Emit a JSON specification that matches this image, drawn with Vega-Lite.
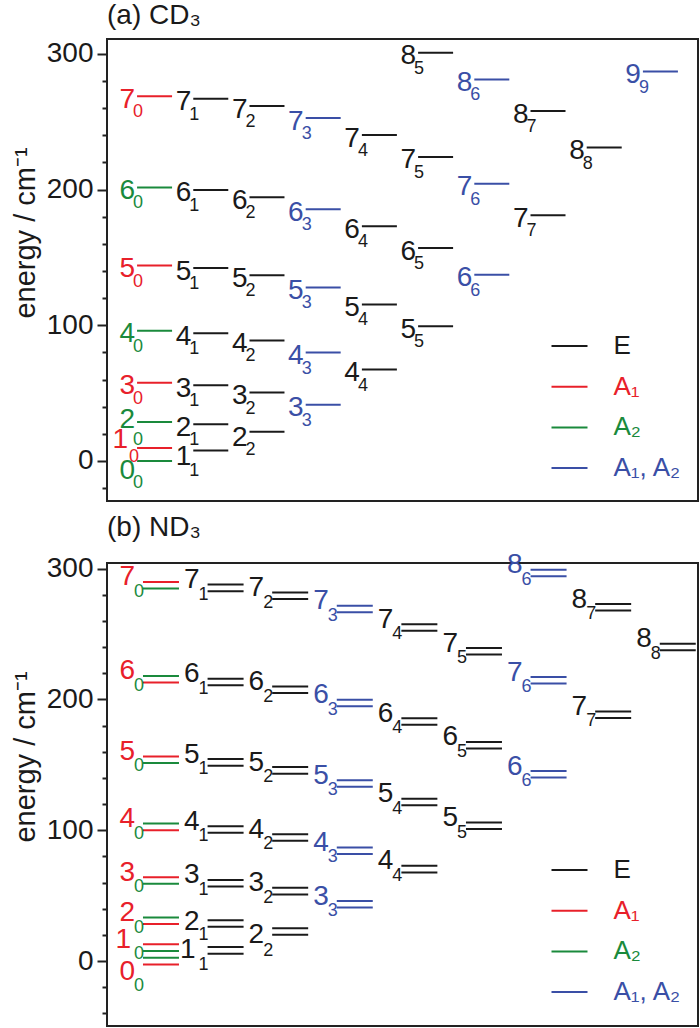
{
  "$schema": "https://vega.github.io/schema/vega-lite/v6.json",
  "background": "white",
  "padding": {"left": 10, "top": 0, "right": 0, "bottom": 0},
  "spacing": 10,
  "config": {
    "font": "Liberation Sans",
    "view": {"stroke": "#222222", "strokeWidth": 2},
    "title": {"font": "Liberation Sans", "fontSize": 28, "fontWeight": "normal", "anchor": "start", "frame": "group", "baseline": "alphabetic", "offset": 9.5, "color": "#1a1a1a"},
    "axis": {
      "values": [0, 50, 100, 150, 200, 250, 300],
      "labelExpr": "datum.value % 100 == 0 ? datum.label : ''",
      "tickSize": {"expr": "datum.value % 100 == 0 ? 10 : 5"},
      "tickWidth": 2, "tickColor": "#222222", "domain": false, "grid": false,
      "labelFontSize": 28, "labelFont": "Liberation Sans", "labelColor": "#1a1a1a", "labelPadding": 4,
      "titleFontSize": 29, "titleFont": "Liberation Sans", "titleFontWeight": "normal", "titleColor": "#1a1a1a", "titlePadding": 6, "titleY": 193.5
    }
  },
  "datasets": {
    "cd3": [
      {"J": 0, "K": 0, "E": 0.0, "sym": "A₂"},
      {"J": 1, "K": 0, "E": 9.6, "sym": "A₁"},
      {"J": 1, "K": 1, "E": 7.8, "sym": "E"},
      {"J": 2, "K": 0, "E": 28.8, "sym": "A₂"},
      {"J": 2, "K": 1, "E": 27.0, "sym": "E"},
      {"J": 2, "K": 2, "E": 21.6, "sym": "E"},
      {"J": 3, "K": 0, "E": 57.6, "sym": "A₁"},
      {"J": 3, "K": 1, "E": 55.8, "sym": "E"},
      {"J": 3, "K": 2, "E": 50.4, "sym": "E"},
      {"J": 3, "K": 3, "E": 41.5, "sym": "A₁, A₂"},
      {"J": 4, "K": 0, "E": 96.0, "sym": "A₂"},
      {"J": 4, "K": 1, "E": 94.2, "sym": "E"},
      {"J": 4, "K": 2, "E": 88.8, "sym": "E"},
      {"J": 4, "K": 3, "E": 79.9, "sym": "A₁, A₂"},
      {"J": 4, "K": 4, "E": 67.4, "sym": "E"},
      {"J": 5, "K": 0, "E": 144.0, "sym": "A₁"},
      {"J": 5, "K": 1, "E": 142.2, "sym": "E"},
      {"J": 5, "K": 2, "E": 136.8, "sym": "E"},
      {"J": 5, "K": 3, "E": 127.9, "sym": "A₁, A₂"},
      {"J": 5, "K": 4, "E": 115.4, "sym": "E"},
      {"J": 5, "K": 5, "E": 99.3, "sym": "E"},
      {"J": 6, "K": 0, "E": 201.6, "sym": "A₂"},
      {"J": 6, "K": 1, "E": 199.8, "sym": "E"},
      {"J": 6, "K": 2, "E": 194.4, "sym": "E"},
      {"J": 6, "K": 3, "E": 185.5, "sym": "A₁, A₂"},
      {"J": 6, "K": 4, "E": 173.0, "sym": "E"},
      {"J": 6, "K": 5, "E": 156.9, "sym": "E"},
      {"J": 6, "K": 6, "E": 137.2, "sym": "A₁, A₂"},
      {"J": 7, "K": 0, "E": 268.8, "sym": "A₁"},
      {"J": 7, "K": 1, "E": 267.0, "sym": "E"},
      {"J": 7, "K": 2, "E": 261.6, "sym": "E"},
      {"J": 7, "K": 3, "E": 252.7, "sym": "A₁, A₂"},
      {"J": 7, "K": 4, "E": 240.2, "sym": "E"},
      {"J": 7, "K": 5, "E": 224.1, "sym": "E"},
      {"J": 7, "K": 6, "E": 204.4, "sym": "A₁, A₂"},
      {"J": 7, "K": 7, "E": 181.1, "sym": "E"},
      {"J": 8, "K": 5, "E": 300.8, "sym": "E"},
      {"J": 8, "K": 6, "E": 281.2, "sym": "A₁, A₂"},
      {"J": 8, "K": 7, "E": 257.9, "sym": "E"},
      {"J": 8, "K": 8, "E": 231.0, "sym": "E"},
      {"J": 9, "K": 9, "E": 287.0, "sym": "A₁, A₂"}
    ],
    "nd3": [
      {"J": 0, "K": 0, "Eup": 2.5, "Elo": -2.5, "up": "A₂", "lo": "A₁"},
      {"J": 1, "K": 0, "Eup": 12.8, "Elo": 7.8, "up": "A₁", "lo": "A₂"},
      {"J": 1, "K": 1, "Eup": 10.7, "Elo": 5.7, "up": "E", "lo": "E"},
      {"J": 2, "K": 0, "Eup": 33.3, "Elo": 28.3, "up": "A₂", "lo": "A₁"},
      {"J": 2, "K": 1, "Eup": 31.3, "Elo": 26.3, "up": "E", "lo": "E"},
      {"J": 2, "K": 2, "Eup": 25.2, "Elo": 20.2, "up": "E", "lo": "E"},
      {"J": 3, "K": 0, "Eup": 64.1, "Elo": 59.1, "up": "A₁", "lo": "A₂"},
      {"J": 3, "K": 1, "Eup": 62.0, "Elo": 57.0, "up": "E", "lo": "E"},
      {"J": 3, "K": 2, "Eup": 56.0, "Elo": 51.0, "up": "E", "lo": "E"},
      {"J": 3, "K": 3, "Eup": 45.9, "Elo": 40.9, "up": "A₁, A₂", "lo": "A₁, A₂"},
      {"J": 4, "K": 0, "Eup": 105.1, "Elo": 100.1, "up": "A₂", "lo": "A₁"},
      {"J": 4, "K": 1, "Eup": 103.1, "Elo": 98.1, "up": "E", "lo": "E"},
      {"J": 4, "K": 2, "Eup": 97.0, "Elo": 92.0, "up": "E", "lo": "E"},
      {"J": 4, "K": 3, "Eup": 86.9, "Elo": 81.9, "up": "A₁, A₂", "lo": "A₁, A₂"},
      {"J": 4, "K": 4, "Eup": 72.8, "Elo": 67.8, "up": "E", "lo": "E"},
      {"J": 5, "K": 0, "Eup": 156.4, "Elo": 151.4, "up": "A₁", "lo": "A₂"},
      {"J": 5, "K": 1, "Eup": 154.4, "Elo": 149.4, "up": "E", "lo": "E"},
      {"J": 5, "K": 2, "Eup": 148.3, "Elo": 143.3, "up": "E", "lo": "E"},
      {"J": 5, "K": 3, "Eup": 138.2, "Elo": 133.2, "up": "A₁, A₂", "lo": "A₁, A₂"},
      {"J": 5, "K": 4, "Eup": 124.1, "Elo": 119.1, "up": "E", "lo": "E"},
      {"J": 5, "K": 5, "Eup": 105.9, "Elo": 100.9, "up": "E", "lo": "E"},
      {"J": 6, "K": 0, "Eup": 218.0, "Elo": 213.0, "up": "A₂", "lo": "A₁"},
      {"J": 6, "K": 1, "Eup": 215.9, "Elo": 210.9, "up": "E", "lo": "E"},
      {"J": 6, "K": 2, "Eup": 209.9, "Elo": 204.9, "up": "E", "lo": "E"},
      {"J": 6, "K": 3, "Eup": 199.8, "Elo": 194.8, "up": "A₁, A₂", "lo": "A₁, A₂"},
      {"J": 6, "K": 4, "Eup": 185.7, "Elo": 180.7, "up": "E", "lo": "E"},
      {"J": 6, "K": 5, "Eup": 167.5, "Elo": 162.5, "up": "E", "lo": "E"},
      {"J": 6, "K": 6, "Eup": 145.3, "Elo": 140.3, "up": "A₁, A₂", "lo": "A₁, A₂"},
      {"J": 7, "K": 0, "Eup": 289.8, "Elo": 284.8, "up": "A₁", "lo": "A₂"},
      {"J": 7, "K": 1, "Eup": 287.8, "Elo": 282.8, "up": "E", "lo": "E"},
      {"J": 7, "K": 2, "Eup": 281.7, "Elo": 276.7, "up": "E", "lo": "E"},
      {"J": 7, "K": 3, "Eup": 271.6, "Elo": 266.6, "up": "A₁, A₂", "lo": "A₁, A₂"},
      {"J": 7, "K": 4, "Eup": 257.5, "Elo": 252.5, "up": "E", "lo": "E"},
      {"J": 7, "K": 5, "Eup": 239.3, "Elo": 234.3, "up": "E", "lo": "E"},
      {"J": 7, "K": 6, "Eup": 217.1, "Elo": 212.1, "up": "A₁, A₂", "lo": "A₁, A₂"},
      {"J": 7, "K": 7, "Eup": 190.8, "Elo": 185.8, "up": "E", "lo": "E"},
      {"J": 8, "K": 6, "Eup": 299.2, "Elo": 294.2, "up": "A₁, A₂", "lo": "A₁, A₂"},
      {"J": 8, "K": 7, "Eup": 272.9, "Elo": 267.9, "up": "E", "lo": "E"},
      {"J": 8, "K": 8, "Eup": 242.6, "Elo": 237.6, "up": "E", "lo": "E"}
    ]
  },
  "resolve": {"scale": {"x": "independent", "y": "independent", "color": "independent", "fill": "independent"}, "legend": {"color": "independent"}, "axis": {"y": "independent"}},
  "vconcat": [
    {
      "title": {"text": "(a) CD₃"},
      "width": 591, "height": 462,
      "data": {"name": "cd3"},
      "encoding": {
        "x": {"field": "K", "type": "quantitative", "scale": {"domain": [-0.535, 9.98], "nice": false, "zero": false}, "axis": null},
        "y": {"field": "E", "type": "quantitative", "scale": {"domain": [-29.5, 311], "nice": false, "zero": false}, "axis": {"title": "energy / cm⁻¹"}}
      },
      "layer": [
        {
          "mark": {"type": "rule", "strokeWidth": 2, "x2Offset": 35},
          "encoding": {
            "x2": {"field": "K"},
            "color": {"field": "sym", "type": "nominal",
              "scale": {"domain": ["E", "A₁", "A₂", "A₁, A₂"], "range": ["#1a1a1a", "#e8202a", "#1a8a3c", "#3a4fa6"]},
              "legend": {"title": null, "orient": "none", "legendX": 443.5, "legendY": 288, "padding": 0,
                "symbolType": "stroke", "symbolSize": 1296, "symbolStrokeWidth": 2,
                "labelFont": "Liberation Sans", "labelFontSize": 26, "labelOffset": 25, "rowPadding": 8.7,
                "labelColor": {"expr": "datum.value == 'E' ? '#1a1a1a' : datum.value == 'A₁' ? '#e8202a' : datum.value == 'A₂' ? '#1a8a3c' : '#3a4fa6'"}}}
          }
        },
        {
          "mark": {"type": "text", "font": "Liberation Sans", "fontSize": 28, "align": "right", "baseline": "middle",
                   "dx": {"expr": "datum.J == 1 && datum.K == 0 ? -9 : -2"},
                   "dy": {"expr": "datum.J == 0 ? 10 : (datum.J == 1 && datum.K == 0 ? -7.5 : (datum.J == 1 && datum.K == 1 ? 6.5 : (datum.J == 2 && datum.K == 0 ? -1.5 : (datum.J == 2 && datum.K == 2 ? 6.5 : 3.5))))"}},
          "encoding": {
            "text": {"field": "J", "type": "nominal"},
            "fill": {"field": "sym", "type": "nominal", "legend": null, "scale": {"domain": ["E", "A₁", "A₂", "A₁, A₂"], "range": ["#1a1a1a", "#e8202a", "#1a8a3c", "#3a4fa6"]}}
          }
        },
        {
          "mark": {"type": "text", "font": "Liberation Sans", "fontSize": 18, "align": "left", "baseline": "middle",
                   "dx": {"expr": "datum.J == 1 && datum.K == 0 ? -8 : -4"},
                   "dy": {"expr": "datum.J == 0 ? 22.5 : (datum.J == 1 && datum.K == 0 ? 8.7 : (datum.J == 1 && datum.K == 1 ? 21 : (datum.J == 2 && datum.K == 0 ? 17.7 : (datum.J == 2 && datum.K == 2 ? 18 : 16))))"}},
          "encoding": {
            "text": {"field": "K", "type": "nominal"},
            "fill": {"field": "sym", "type": "nominal", "legend": null, "scale": {"domain": ["E", "A₁", "A₂", "A₁, A₂"], "range": ["#1a1a1a", "#e8202a", "#1a8a3c", "#3a4fa6"]}}
          }
        }
      ]
    },
    {
      "title": {"text": "(b) ND₃"},
      "width": 591, "height": 463,
      "data": {"name": "nd3"},
      "encoding": {
        "x": {"field": "K", "type": "quantitative", "scale": {"domain": [-0.557, 8.592], "nice": false, "zero": false}, "axis": null},
        "y": {"field": "Eup", "type": "quantitative", "scale": {"domain": [-49.6, 304.3], "nice": false, "zero": false}, "axis": {"title": "energy / cm⁻¹"}}
      },
      "layer": [
        {
          "mark": {"type": "rule", "strokeWidth": 2, "x2Offset": 36},
          "encoding": {
            "x2": {"field": "K"},
            "color": {"field": "up", "type": "nominal",
              "scale": {"domain": ["E", "A₁", "A₂", "A₁, A₂"], "range": ["#1a1a1a", "#e8202a", "#1a8a3c", "#3a4fa6"]},
              "legend": {"title": null, "orient": "none", "legendX": 443.5, "legendY": 288, "padding": 0,
                "symbolType": "stroke", "symbolSize": 1296, "symbolStrokeWidth": 2,
                "labelFont": "Liberation Sans", "labelFontSize": 26, "labelOffset": 25, "rowPadding": 8.7,
                "labelColor": {"expr": "datum.value == 'E' ? '#1a1a1a' : datum.value == 'A₁' ? '#e8202a' : datum.value == 'A₂' ? '#1a8a3c' : '#3a4fa6'"}}}
          }
        },
        {
          "mark": {"type": "rule", "strokeWidth": 2, "x2Offset": 36},
          "encoding": {
            "x2": {"field": "K"},
            "y": {"field": "Elo", "type": "quantitative", "axis": {"title": "energy / cm⁻¹"}},
            "color": {"field": "lo", "type": "nominal",
              "scale": {"domain": ["E", "A₁", "A₂", "A₁, A₂"], "range": ["#1a1a1a", "#e8202a", "#1a8a3c", "#3a4fa6"]},
              "legend": {"title": null, "orient": "none", "legendX": 443.5, "legendY": 288, "padding": 0,
                "symbolType": "stroke", "symbolSize": 1296, "symbolStrokeWidth": 2,
                "labelFont": "Liberation Sans", "labelFontSize": 26, "labelOffset": 25, "rowPadding": 8.7,
                "labelColor": {"expr": "datum.value == 'E' ? '#1a1a1a' : datum.value == 'A₁' ? '#e8202a' : datum.value == 'A₂' ? '#1a8a3c' : '#3a4fa6'"}}}
          }
        },
        {
          "mark": {"type": "text", "font": "Liberation Sans", "fontSize": 28, "align": "right", "baseline": "middle",
                   "dx": {"expr": "datum.J == 1 ? -12 : -8"},
                   "dy": {"expr": "datum.J == 0 ? 14 : (datum.J == 1 && datum.K == 1 ? 3 : (datum.J == 2 && datum.K == 1 ? 2 : (datum.J == 2 && datum.K == 2 ? 7 : -4.5)))"}},
          "encoding": {
            "text": {"field": "J", "type": "nominal"},
            "fill": {"condition": {"test": "datum.K == 0", "value": "#e8202a"}, "field": "up", "type": "nominal", "legend": null, "scale": {"domain": ["E", "A₁", "A₂", "A₁, A₂"], "range": ["#1a1a1a", "#e8202a", "#1a8a3c", "#3a4fa6"]}}
          }
        },
        {
          "mark": {"type": "text", "font": "Liberation Sans", "fontSize": 18, "align": "left", "baseline": "middle", "dx": -9,
                   "dy": {"expr": "datum.J == 0 ? 27.7 : (datum.J == 1 && datum.K == 1 ? 18 : (datum.J == 2 && datum.K == 1 ? 14.5 : (datum.J == 2 && datum.K == 2 ? 22.5 : 10)))"}},
          "encoding": {
            "text": {"field": "K", "type": "nominal"},
            "fill": {"condition": {"test": "datum.K == 0", "value": "#1a8a3c"}, "field": "up", "type": "nominal", "legend": null, "scale": {"domain": ["E", "A₁", "A₂", "A₁, A₂"], "range": ["#1a1a1a", "#e8202a", "#1a8a3c", "#3a4fa6"]}}
          }
        }
      ]
    }
  ]
}
